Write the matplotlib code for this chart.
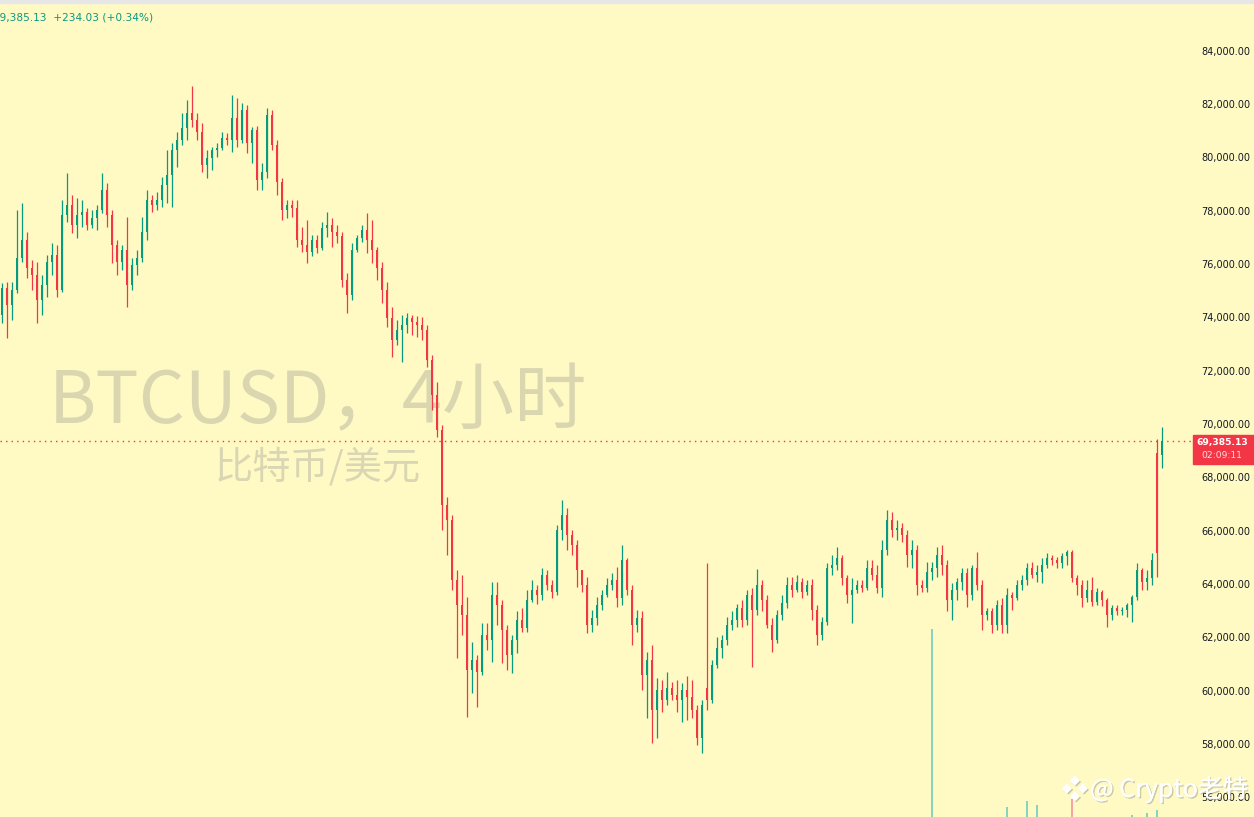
import numpy as np
import matplotlib
matplotlib.use('Agg')
import matplotlib.pyplot as plt
import matplotlib.patheffects as pe
from matplotlib.patches import Rectangle
import matplotlib.transforms as mtransforms

# BTCUSD 4h candles, prices in thousands of USD
opens_k = [
    74.13, 75.14, 74.50, 75.07, 76.27, 76.94, 75.89, 75.63, 74.69, 75.25,
    76.12, 76.38, 75.07, 77.88, 78.25, 77.50, 77.88, 77.99, 77.50, 77.77,
    78.07, 78.82, 77.88, 76.75, 76.12, 76.57, 75.25, 76.00, 76.27, 77.24,
    78.44, 78.25, 78.44, 79.00, 79.38, 80.32, 80.69, 81.14, 81.70, 81.44,
    80.99, 79.75, 80.02, 80.32, 80.39, 80.77, 80.69, 81.52, 80.69, 81.82,
    80.58, 81.07, 79.19, 79.49, 81.63, 80.50, 79.12, 78.07, 78.25, 78.14,
    76.94, 76.75, 76.49, 76.94, 76.64, 77.39, 77.50, 77.24, 77.09, 75.44,
    74.88, 76.57, 77.02, 77.32, 76.94, 76.57, 75.89, 75.07, 74.02, 73.19,
    73.57, 73.75, 74.02, 73.87, 73.75, 73.57, 72.44, 71.13, 69.82, 67.00,
    66.44, 64.19, 63.25, 62.88, 60.82, 61.19, 60.74, 62.13, 61.94, 63.63,
    63.25, 62.31, 61.38, 61.94, 62.69, 62.39, 63.44, 63.82, 63.63, 64.38,
    64.00, 63.74, 66.07, 66.63, 65.88, 65.50, 64.57, 64.00, 62.50, 62.77,
    63.25, 63.63, 64.00, 64.19, 63.52, 64.94, 63.82, 62.50, 62.77, 60.63,
    61.19, 59.31, 60.07, 59.69, 60.14, 59.88, 59.69, 60.07, 59.80, 59.31,
    58.26, 60.14, 59.69, 61.00, 61.64, 61.94, 62.50, 62.69, 63.14, 62.69,
    63.63, 63.07, 64.00, 63.44, 62.50, 61.94, 62.88, 63.33, 64.00, 63.82,
    64.12, 63.74, 64.00, 63.07, 62.13, 62.62, 64.64, 64.75, 65.01, 64.27,
    63.63, 63.82, 64.00, 63.89, 64.64, 64.38, 63.89, 65.31, 66.44, 66.07,
    66.14, 65.88, 65.13, 65.31, 64.00, 63.89, 64.49, 64.64, 65.13, 64.75,
    63.44, 63.82, 64.12, 64.45, 63.63, 64.64, 64.00, 62.88, 63.01, 62.50,
    63.25, 62.50, 63.63, 63.52, 64.00, 64.19, 64.64, 64.38, 64.49, 64.75,
    65.01, 64.94, 64.83, 65.09, 65.24, 64.27, 64.00, 63.52, 63.82, 63.37,
    63.74, 63.44, 62.88, 63.14, 63.01, 63.07, 63.25, 63.55, 64.57, 64.12,
    64.27, 68.95, 68.88,
]
closes_k = [
    75.14, 74.50, 75.07, 76.27, 76.94, 75.89, 75.63, 74.69, 75.25, 76.12,
    76.38, 75.07, 77.88, 78.25, 77.50, 77.88, 77.99, 77.50, 77.77, 78.07,
    78.82, 77.88, 76.75, 76.12, 76.57, 75.25, 76.00, 76.27, 77.24, 78.44,
    78.25, 78.44, 79.00, 79.38, 80.32, 80.69, 81.14, 81.70, 81.44, 80.99,
    79.75, 80.02, 80.32, 80.39, 80.77, 80.69, 81.52, 80.69, 81.82, 80.58,
    81.07, 79.19, 79.49, 81.63, 80.50, 79.12, 78.07, 78.25, 78.14, 76.94,
    76.75, 76.49, 76.94, 76.64, 77.39, 77.50, 77.24, 77.09, 75.44, 74.88,
    76.57, 77.02, 77.32, 76.94, 76.57, 75.89, 75.07, 74.02, 73.19, 73.57,
    73.75, 74.02, 73.87, 73.75, 73.57, 72.44, 71.13, 69.82, 67.00, 66.44,
    64.19, 63.25, 62.88, 60.82, 61.19, 60.74, 62.13, 61.94, 63.63, 63.25,
    62.31, 61.38, 61.94, 62.69, 62.39, 63.44, 63.82, 63.63, 64.38, 64.00,
    63.74, 66.07, 66.63, 65.88, 65.50, 64.57, 64.00, 62.50, 62.77, 63.25,
    63.63, 64.00, 64.19, 63.52, 64.94, 63.82, 62.50, 62.77, 60.63, 61.19,
    59.31, 60.07, 59.69, 60.14, 59.88, 59.69, 60.07, 59.80, 59.31, 58.26,
    59.50, 59.69, 61.00, 61.64, 61.94, 62.50, 62.69, 63.14, 62.69, 63.63,
    63.07, 64.00, 63.44, 62.50, 61.94, 62.88, 63.33, 64.00, 63.82, 64.12,
    63.74, 64.00, 63.07, 62.13, 62.62, 64.64, 64.75, 65.01, 64.27, 63.63,
    63.82, 64.00, 63.89, 64.64, 64.38, 63.89, 65.31, 66.44, 66.07, 66.14,
    65.88, 65.13, 65.31, 64.00, 63.89, 64.49, 64.64, 65.13, 64.75, 63.44,
    63.82, 64.12, 64.45, 63.63, 64.64, 64.00, 62.88, 63.01, 62.50, 63.25,
    62.50, 63.63, 63.52, 64.00, 64.19, 64.64, 64.38, 64.49, 64.75, 65.01,
    64.94, 64.83, 65.09, 65.24, 64.27, 64.00, 63.52, 63.82, 63.37, 63.74,
    63.44, 62.88, 63.14, 63.01, 63.07, 63.25, 63.55, 64.57, 64.12, 64.27,
    64.94, 65.20, 69.385,
]
highs_k = [
    75.33, 75.37, 75.37, 78.07, 78.33, 77.24, 76.19, 76.12, 75.63, 76.38,
    76.83, 76.75, 78.44, 79.45, 78.63, 78.52, 78.44, 78.14, 78.07, 78.25,
    79.45, 79.08, 78.07, 76.94, 76.75, 77.80, 76.27, 76.57, 77.80, 78.82,
    78.63, 78.74, 79.30, 80.32, 80.58, 80.99, 81.70, 82.19, 82.72, 81.70,
    81.33, 80.32, 80.43, 80.58, 80.99, 80.95, 82.38, 82.27, 82.08, 82.00,
    81.18, 81.22, 79.83, 81.89, 81.82, 80.69, 79.27, 78.44, 78.44, 78.44,
    77.43, 77.69, 77.13, 77.13, 77.62, 77.99, 77.77, 77.50, 77.24, 75.70,
    76.83, 77.13, 77.50, 77.95, 77.69, 76.68, 76.12, 75.37, 74.43, 73.94,
    74.13, 74.20, 74.13, 74.09, 74.05, 73.75, 72.63, 71.62, 70.00, 67.30,
    66.63, 64.57, 64.38, 63.55, 61.87, 61.38, 62.58, 62.58, 64.12, 64.12,
    63.44, 62.50, 62.13, 63.01, 63.14, 63.82, 64.19, 64.00, 64.64, 64.57,
    64.19, 66.25, 67.19, 66.89, 66.07, 65.69, 64.57, 64.31, 63.07, 63.55,
    63.82, 64.27, 64.45, 64.68, 65.50, 65.01, 64.00, 63.07, 63.01, 61.49,
    61.75, 60.52, 60.44, 60.74, 60.37, 60.44, 60.33, 60.59, 60.44, 59.50,
    59.69, 64.83, 61.19, 62.05, 62.13, 62.80, 63.01, 63.29, 63.44, 63.82,
    63.89, 64.60, 64.19, 63.63, 62.77, 63.07, 63.63, 64.31, 64.31, 64.38,
    64.27, 64.19, 64.23, 63.25, 62.80, 64.83, 65.13, 65.43, 65.13, 64.38,
    64.27, 64.19, 64.19, 64.94, 64.94, 64.75, 65.69, 66.82, 66.74, 66.44,
    66.33, 66.07, 65.69, 65.50, 64.19, 64.87, 64.87, 65.43, 65.50, 64.94,
    64.08, 64.27, 64.64, 64.64, 64.75, 65.24, 64.19, 63.14, 63.14, 63.44,
    63.52, 63.89, 63.74, 64.19, 64.38, 64.83, 64.87, 64.75, 65.01, 65.20,
    65.13, 65.05, 65.20, 65.31, 65.31, 64.38, 64.19, 64.19, 64.31, 63.89,
    63.82, 63.52, 63.25, 63.25, 63.18, 63.33, 63.63, 64.83, 64.64, 64.57,
    65.20, 69.48, 69.93,
]
lows_k = [
    73.83, 73.27, 73.94, 74.95, 76.12, 75.52, 75.07, 73.83, 74.13, 74.80,
    75.63, 74.80, 74.99, 77.62, 77.20, 77.02, 77.43, 77.32, 77.39, 77.32,
    77.95, 77.43, 76.08, 75.63, 75.82, 74.43, 75.07, 75.63, 76.12, 76.94,
    77.99, 78.07, 78.18, 78.33, 78.18, 79.68, 80.50, 80.69, 81.18, 80.69,
    79.49, 79.27, 79.57, 80.05, 80.32, 80.50, 80.24, 80.43, 80.58, 80.20,
    79.83, 78.82, 78.82, 79.27, 80.32, 78.63, 77.69, 77.77, 77.80, 76.68,
    76.49, 76.08, 76.34, 76.45, 76.57, 77.05, 76.68, 76.83, 75.18, 74.20,
    74.69, 76.49, 76.87, 76.45, 76.08, 75.44, 74.58, 73.68, 72.55, 73.00,
    72.37, 73.45, 73.38, 73.30, 73.19, 72.18, 70.57, 69.55, 66.07, 65.13,
    63.82, 61.27, 62.13, 59.05, 59.95, 59.43, 60.63, 61.56, 61.12, 62.50,
    61.08, 60.82, 60.70, 61.45, 62.24, 62.24, 63.37, 63.29, 63.44, 63.82,
    63.52, 63.63, 65.69, 65.31, 65.13, 63.93, 63.74, 62.20, 62.24, 62.50,
    63.07, 63.55, 63.82, 63.18, 63.25, 63.63, 61.75, 62.24, 60.07, 59.02,
    58.08, 58.26, 59.24, 59.50, 59.69, 59.24, 58.87, 58.94, 59.02, 58.00,
    57.70, 59.31, 59.58, 60.89, 61.27, 61.75, 62.31, 62.43, 62.43, 62.50,
    60.93, 62.88, 63.01, 62.39, 61.49, 61.83, 62.69, 63.14, 63.55, 63.74,
    63.52, 63.63, 62.69, 61.75, 61.94, 62.50, 64.38, 64.57, 64.00, 63.33,
    62.58, 63.70, 63.74, 63.82, 64.19, 63.70, 63.55, 65.13, 65.80, 65.69,
    65.62, 64.68, 64.64, 63.63, 63.74, 63.74, 64.19, 64.31, 64.38, 63.01,
    62.69, 63.44, 63.82, 63.18, 63.44, 63.82, 62.31, 62.69, 62.20, 62.31,
    62.20, 62.20, 63.07, 63.44, 63.82, 64.00, 64.27, 64.12, 64.08, 64.64,
    64.75, 64.64, 64.64, 64.75, 64.12, 63.63, 63.18, 63.37, 63.22, 63.25,
    63.22, 62.43, 62.69, 62.88, 62.88, 62.80, 62.62, 63.44, 63.82, 63.82,
    64.00, 64.30, 68.39,
]

# the few volume bars that reach into view (share of pane height, %)
vol_idx = [186, 201, 205, 207, 214, 226, 229, 231]
vol_pct = [23.0, 1.2, 2.0, 1.5, 2.2, 0.25, 0.5, 0.9]
vol_up = [True, True, True, True, False, True, True, True]

price_ticks = [56000, 58000, 60000, 62000, 64000, 66000, 68000, 70000,
               72000, 74000, 76000, 78000, 80000, 82000, 84000]
last_price = 69385.13
change_text = '69,385.13  +234.03 (+0.34%)'
countdown = '02:09:11'

UP = '#089981'
DOWN = '#f23645'
BG = '#fff9c4'

opens = np.array(opens_k) * 1000
closes = np.array(closes_k) * 1000
highs = np.array(highs_k) * 1000
lows = np.array(lows_k) * 1000
t = np.arange(len(closes))

W, H = 1254, 817
fig = plt.figure(figsize=(W / 100, H / 100), dpi=100, facecolor=BG)

# volume pane behind the candles
axv = fig.add_axes([0, 0, 1, 1])
axv.set_facecolor(BG)
axv.bar(vol_idx, vol_pct, width=0.35,
        color=['#86d3bf' if u else '#f7a3a6' for u in vol_up])
axv.set_ylim(0, 100)

ax = fig.add_axes([0, 0, 1, 1])
ax.patch.set_visible(False)
for a in (ax, axv):
    a.set_xlim(-0.4, 250.4)
    a.axis('off')
ax.set_ylim(55300, 85940)

# watermark
cjk = ['Noto Sans CJK SC', 'DejaVu Sans']
ax.text(63.2, 70050, 'BTCUSD，4小时', family=cjk, fontsize=52,
        fontweight='medium', color='#dad6b0', ha='center', va='baseline',
        zorder=0)
ax.text(63.2, 68000, '比特币/美元', family=cjk, fontsize=27.5,
        color='#dad6b4', ha='center', va='baseline', zorder=0)

# candles
up = closes >= opens
cols = np.where(up, UP, DOWN)
ax.vlines(t, lows, highs, colors=cols, lw=0.9, zorder=3)
body = np.maximum(np.abs(closes - opens), 40)
ax.bar(t, body, bottom=np.minimum(opens, closes), width=0.55,
       color=cols, zorder=4)

# last price line and label
ax.hlines(last_price, -0.4, 238.2, colors=DOWN, lw=1,
          linestyles=(0, (1, 3)), zorder=2)
fig.patches.append(Rectangle((1193 / W, 1 - 464 / H), 61 / W, 29 / H,
                             transform=fig.transFigure, color=DOWN, zorder=5))
fig.text(1222 / W, 1 - 443 / H, f'{last_price:,.2f}', color='white',
         fontsize=6.6, fontweight='bold', ha='center', va='center', zorder=6)
fig.text(1222 / W, 1 - 456 / H, countdown, color='#ffe0e2',
         fontsize=6.6, ha='center', va='center', zorder=6)

# price scale
trans = mtransforms.blended_transform_factory(ax.transAxes, ax.transData)
for v in price_ticks:
    ax.text(1250 / W, v, f'{v:,.2f}', transform=trans, fontsize=7,
            color='#131722', ha='right', va='center', zorder=7)

# header line
fig.patches.append(Rectangle((0, 1 - 3 / H), 1, 3 / H,
                             transform=fig.transFigure, color='#e6e6e6'))
fig.text(-7 / W, 1 - 18 / H, change_text, color=UP, fontsize=7.6,
         ha='left', va='center')

# author watermark
shadow = [pe.withSimplePatchShadow(offset=(1, -1), shadow_rgbFace='#9a9a8a',
                                   alpha=0.5), pe.Normal()]
fig.text(1075 / W, 1 - 791 / H, '❖', family=cjk, fontsize=19, color='white',
         ha='center', va='center', path_effects=shadow, zorder=8)
fig.text(1090 / W, 1 - 797 / H, '@ Crypto老特', family=cjk, fontsize=18,
         color='white', ha='left', va='baseline', path_effects=shadow, zorder=8)

fig.savefig('out.png', dpi=100, facecolor=BG)
